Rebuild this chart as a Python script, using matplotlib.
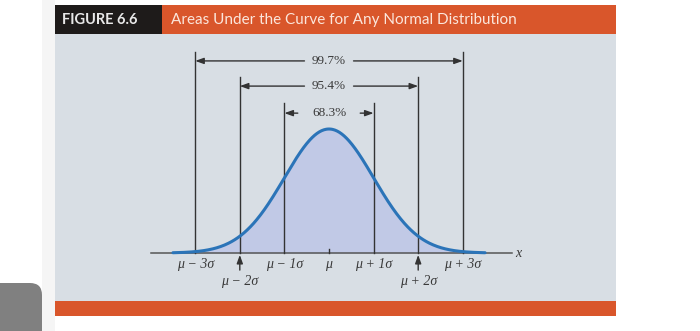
import numpy as np
import matplotlib
matplotlib.use("Agg")
import matplotlib.pyplot as plt
from matplotlib.patches import Rectangle, FancyBboxPatch

# chart content
title_tag = "FIGURE 6.6"
title_text = "Areas Under the Curve for Any Normal Distribution"
mu, sigma = 0.0, 1.0
band_k = [3, 2, 1]
band_pct = ["99.7%", "95.4%", "68.3%"]
line_top = [0.647, 0.566, 0.483]      # height of the vertical guide lines
arrow_y = [0.618, 0.537, 0.450]       # height of the double arrows
gap_half = [0.55, 0.55, 0.70]         # half-width of the gap left for the label
tick_k = [-3, -2, -1, 0, 1, 2, 3]
tick_labels = ["μ − 3σ", "μ − 2σ", "μ − 1σ", "μ", "μ + 1σ", "μ + 2σ", "μ + 3σ"]
curve_lim = 3.5

fig = plt.figure(figsize=(7.0, 3.31), dpi=100)
fig.patch.set_facecolor("white")

# background layer in pixel coordinates
bg = fig.add_axes([0, 0, 1, 1])
bg.set_xlim(0, 700)
bg.set_ylim(331, 0)
bg.axis("off")
bg.add_patch(Rectangle((42, 0), 13, 331, color="#f5f5f5", lw=0))
bg.add_patch(Rectangle((55, 34), 561, 267, color="#d8dee4", lw=0))
bg.add_patch(Rectangle((55, 5), 107, 29, color="#1e1b1a", lw=0))
bg.add_patch(Rectangle((162, 5), 454, 29, color="#d9562b", lw=0))
bg.add_patch(Rectangle((55, 301), 561, 15, color="#d9562b", lw=0))
bg.add_patch(FancyBboxPatch((-20, 283), 62, 80, boxstyle="round,pad=0,rounding_size=12",
                            color="#808080", lw=0))
bg.text(62, 20, title_tag, color="#e8e8e8", fontsize=10.5, fontweight="bold",
        family="Lato", va="center", ha="left")
bg.text(171, 20, title_text, color="#fbe6dc", fontsize=11,
        family="Lato", va="center", ha="left")

# chart axes (x in sigma units, y in density)
ax = fig.add_axes([0.2, 31 / 331, 390 / 700, 260 / 331])
ax.set_xlim(-4.238, 4.507)
ax.set_ylim(-0.1512, 0.6853)
ax.axis("off")
ax.patch.set_alpha(0)

x = np.linspace(mu - curve_lim * sigma, mu + curve_lim * sigma, 400)
y = np.exp(-0.5 * ((x - mu) / sigma) ** 2) / (sigma * np.sqrt(2 * np.pi))
ax.fill_between(x, 0, y, color="#c1c9e6", lw=0, zorder=1)
ax.plot(x, y, color="#2b74b8", lw=2.2, zorder=3, solid_capstyle="round")

tc = "#3a3a3a"
# horizontal axis
ax.plot([-4.0, 4.1], [0, 0], color="#555555", lw=1.1, zorder=2)
ax.text(4.25, 0.0, "x", family="Liberation Serif", style="italic",
        fontsize=10, color=tc, va="center", ha="center")
ax.plot([0, 0], [0, 0.012], color="#333333", lw=1, zorder=2)

lc = "#333333"
for k, pct, top, ay, g in zip(band_k, band_pct, line_top, arrow_y, gap_half):
    for s in (-1, 1):
        ax.plot([s * k, s * k], [0, top], color=lc, lw=1.0, zorder=2)
        ax.annotate("", xy=(s * k, ay), xytext=(s * g, ay),
                    arrowprops=dict(arrowstyle="-|>,head_length=0.5,head_width=0.18",
                                    color=lc, lw=1, shrinkA=0, shrinkB=0))
    ax.text(0, ay, pct, family="Liberation Serif", fontsize=9.5, color=tc,
            ha="center", va="center")

# tick labels
for k, lab in zip(tick_k, tick_labels):
    if abs(k) == 2:
        ax.annotate("", xy=(k, -0.006), xytext=(k, -0.055),
                    arrowprops=dict(arrowstyle="-|>,head_length=0.5,head_width=0.18",
                                    color=lc, lw=1, shrinkA=0, shrinkB=0))
        ax.text(k, -0.092, lab, family="Liberation Serif", style="italic",
                fontsize=10, color=tc, ha="center", va="center")
    else:
        ax.text(k, -0.037, lab, family="Liberation Serif", style="italic",
                fontsize=10, color=tc, ha="center", va="center")

fig.savefig("out.png", dpi=100)
